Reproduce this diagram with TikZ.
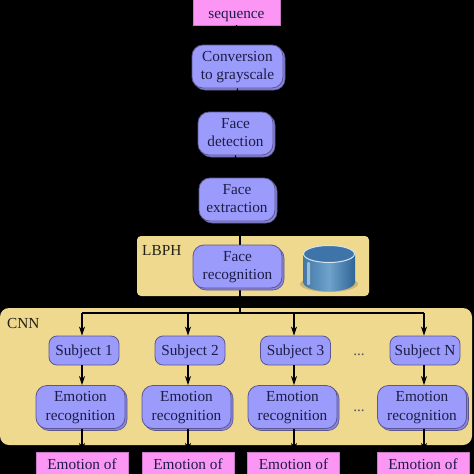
\documentclass[tikz,border=0pt]{standalone}
\usepackage{fontspec}
\setmainfont{Liberation Serif}
\usetikzlibrary{shadows,arrows.meta,calc}
\definecolor{procfill}{HTML}{9B9BFB}
\definecolor{procline}{HTML}{5C5690}
\definecolor{procshadow}{HTML}{8A86DC}
\definecolor{paneltan}{HTML}{EFD98E}
\definecolor{termpink}{HTML}{FB96F4}
\definecolor{inktext}{HTML}{1C1C46}
\definecolor{inkline}{HTML}{000000}
\definecolor{dbdark}{HTML}{2F6496}
\definecolor{dbmid}{HTML}{6FA3CC}
\definecolor{dblight}{HTML}{D4E6F2}
\definecolor{dbtop}{HTML}{3E74A8}
\tikzset{
  x=1pt,y=-1pt,
  every node/.style={font=\fontsize{15.3}{18.5}\selectfont,text=inktext,align=center,inner sep=0pt},
  proc/.style={draw=procline,line width=0.8pt,fill=procfill,rounded corners=11pt,
    minimum width=#1,minimum height=43pt,text height=29.6pt,text depth=3pt,
    copy shadow={shadow xshift=2pt,shadow yshift=-2pt,fill=procshadow,draw=procline,line width=0.6pt}},
  subj/.style={draw=procline,line width=0.8pt,fill=procfill,rounded corners=8pt,minimum width=70pt,minimum height=29pt,text height=11pt,text depth=2pt},
  termtop/.style={fill=termpink,draw=termpink!80!black,line width=0.5pt,minimum width=87pt,anchor=south,text height=40pt,text depth=6pt},
  termbot/.style={fill=termpink,draw=termpink!80!black,line width=0.5pt,minimum width=92pt,anchor=north,text height=17pt,text depth=24pt},
  panel/.style={fill=paneltan,rounded corners=#1},
  flow/.style={draw=inkline,line width=1.2pt,-{Stealth[length=9pt,width=6pt,inset=2.5pt]}},
  plain/.style={draw=inkline,line width=1.2pt},
  tag/.style={anchor=base west,text=black!85!paneltan},
  gap/.style={anchor=base,text=inktext!70!paneltan},
}
\begin{document}
\begin{tikzpicture}
\useasboundingbox (0,0) rectangle (474,474);
\clip (0,0) rectangle (474,474);
\fill[black] (0,0) rectangle (474,474);
% panels
\fill[panel=4pt] (137,236) rectangle (369,296);
\fill[panel=9pt] (0,308) rectangle (472,445);
\coordinate (lbphtop) at (240,236);
\coordinate (lbphbot) at (240,296);
\coordinate (bus) at (240,313);
\coordinate (busa) at (82,313);
\coordinate (busb) at (188,313);
\coordinate (busc) at (294,313);
\coordinate (busd) at (424,313);
% connectors behind the boxes
\draw[plain] (lbphtop) -- (240,250);
\draw[plain] (240,280) -- (lbphbot) -- (bus);
\draw[plain] (busa) -- (busd);
\node[tag] (lbph) at (142,255) {LBPH};
\node[tag] (cnn) at (7,328) {CNN};
% top column
\node[termtop] (seq) at (236.5,25) {sequence};
\node[proc=91pt] (conv) at (237.5,66.5) {Conversion\\to grayscale};
\node[proc=75pt] (det) at (235.5,133.5) {Face\\detection};
\node[proc=76pt] (ext) at (237,199.5) {Face\\extraction};
\node[proc=89pt] (rec) at (237.5,266.5) {Face\\recognition};
% database cylinder
\fill[black!35!paneltan,opacity=.45] (329,284) ellipse (29 and 8);
\path[left color=dbdark!70!dbmid,right color=dbdark,middle color=dbmid]
  (303,254) -- (303,282) arc[start angle=180,end angle=360,x radius=26,y radius=-9.5] -- (355,254) -- cycle;
\fill[dblight,opacity=.6,rounded corners=1pt] (307,262) rectangle (310,285);
\draw[fill=dbtop,draw=dblight,line width=1pt] (329,254) ellipse (25.5 and 8.5);
% subjects
\node[subj] (s1) at (84,350.5) {Subject 1};
\node[subj] (s2) at (190,350.5) {Subject 2};
\node[subj] (s3) at (295.5,350.5) {Subject 3};
\node[subj] (sn) at (425,350.5) {Subject N};
\node[proc=89pt] (e1) at (80.5,407) {Emotion\\recognition};
\node[proc=89pt] (e2) at (186.5,407) {Emotion\\recognition};
\node[proc=89pt] (e3) at (292.5,407) {Emotion\\recognition};
\node[proc=89pt] (en) at (422,407) {Emotion\\recognition};
\node[gap] (dots1) at (359,355) {...};
\node[gap] (dots2) at (359,411) {...};
\node[termbot] (o1) at (82,452) {Emotion of};
\node[termbot] (o2) at (188,452) {Emotion of};
\node[termbot] (o3) at (293.5,452) {Emotion of};
\node[termbot] (on) at (423,452) {Emotion of};
% arrows
\draw[flow] (seq.south) -- (conv.north);
\draw[flow] (conv.south) -- (det.north);
\draw[flow] (det.south) -- (ext.north);
\draw[flow] (busa) -- (busa |- s1.north);
\draw[flow] (busb) -- (busb |- s2.north);
\draw[flow] (busc) -- (busc |- s3.north);
\draw[flow] (busd) -- (busd |- sn.north);
\draw[flow] (s1.south -| busa) -- (busa |- e1.north);
\draw[flow] (s2.south -| busb) -- (busb |- e2.north);
\draw[flow] (s3.south -| busc) -- (busc |- e3.north);
\draw[flow] (sn.south -| busd) -- (busd |- en.north);
\draw[flow] (busa |- e1.south) -- (busa |- o1.north);
\draw[flow] (busb |- e2.south) -- (busb |- o2.north);
\draw[flow] (busc |- e3.south) -- (busc |- o3.north);
\draw[flow] (busd |- en.south) -- (busd |- on.north);
\end{tikzpicture}
\end{document}
